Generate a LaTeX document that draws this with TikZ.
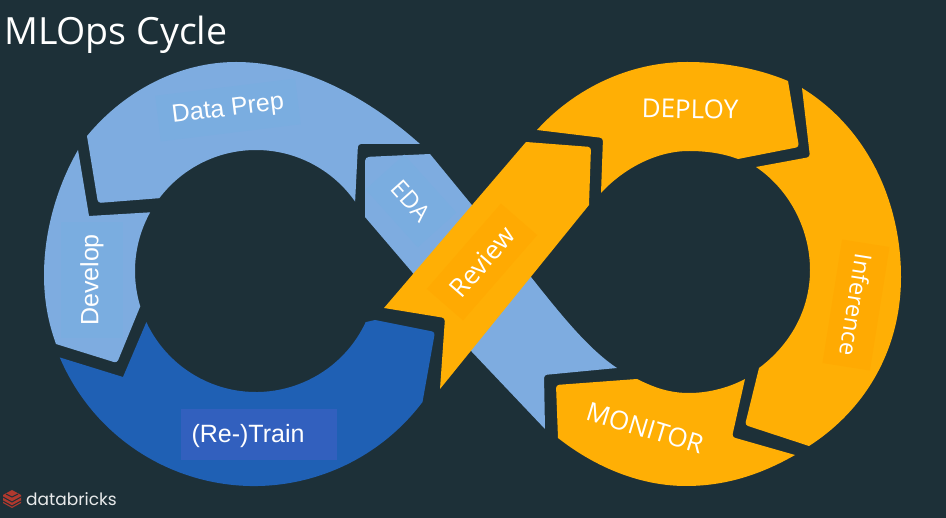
\documentclass[tikz,border=0pt]{standalone}
\usepackage{fontspec}
\usetikzlibrary{calc}
\setmainfont{Liberation Sans}
\newfontfamily\opensans{Open Sans}
\newfontfamily\poppins{Poppins}
\definecolor{slate}{HTML}{1D3038}
\definecolor{skyblue}{HTML}{7EACE0}
\definecolor{skyband}{HTML}{7AADE0}
\definecolor{deepblue}{HTML}{1F60B4}
\definecolor{deepband}{HTML}{3260BE}
\definecolor{amber}{HTML}{FFAF05}
\definecolor{amberband}{HTML}{FFAA02}
\definecolor{brickred}{HTML}{B0392E}
\tikzset{
  sky/.style={fill=skyblue},
  deep/.style={fill=deepblue},
  warm/.style={fill=amber},
  arial/.style={text=white,inner sep=0pt,font=\fontsize{25}{30}\selectfont},
  open/.style={text=white,inner sep=0pt,font=\opensans\fontsize{26}{30}\selectfont},
}
\begin{document}
\begin{tikzpicture}[x=1pt,y=-1pt]
    \useasboundingbox (0,0) rectangle (946,518);
    \fill[slate] (0,0) rectangle (946,518);
    \coordinate (lo) at (254,275);
    \coordinate (li) at (256,271);

    % left loop
    \fill[sky] (87,136) .. controls (125,90) and (180,62) .. (236,62)
      .. controls (300,62) and (365,95) .. (420,144)
      [rounded corners=3pt] -- (358,144) [sharp corners]
      -- ($(li)+(-35:121)$) arc[start angle=-35,end angle=-143,radius=121]
      [rounded corners=3pt] -- (98,203) [sharp corners] -- cycle;
    \fill[sky] (78,150) .. controls (55,190) and (44,235) .. (44,275)
      .. controls (44,300) and (48,322) .. (56,344)
      [rounded corners=3pt] -- (117,363) [sharp corners] -- (140,307)
      -- ($(li)+(163:121)$) arc[start angle=163,end angle=209,radius=121]
      -- (89,216) -- cycle;
    \fill[deep] ($(lo)+(157:211)$) arc[start angle=157,end angle=37,radius=211]
      [rounded corners=3pt] -- (435,332) [sharp corners] -- (375,320)
      -- ($(li)+(25:121)$) arc[start angle=25,end angle=155,radius=121]
      -- (123,377) -- cycle;

    % band crossing under the review arrow
    \fill[sky] [rounded corners=4pt] (365,217) -- (365,157) [sharp corners] -- (430,154) -- (531,277)
      .. controls (565,320) and (590,350) .. (617,368)
      [rounded corners=3pt] -- (544,375) [sharp corners] -- (545,429) -- (472,352) -- (412,272) -- cycle;
    \fill[warm] [rounded corners=3pt] (526,142) -- (591,147) [sharp corners] -- (589,205)
      -- (440,389) [rounded corners=3pt] -- (445,318) [sharp corners] -- (384,308) -- cycle;

    % right loop
    \fill[warm] (537,130) .. controls (575,88) and (630,62) .. (687,62)
      .. controls (722,62) and (757,68) .. (788,81)
      [rounded corners=3pt] -- (799,147) [sharp corners] -- (738,159)
      .. controls (722,153) and (705,151) .. (689,151)
      .. controls (655,151) and (622,170) .. (601,193)
      [rounded corners=3pt] -- (603,138) [sharp corners] -- cycle;
    \fill[warm] (802,88) .. controls (870,130) and (901,205) .. (901,277)
      .. controls (901,350) and (865,410) .. (809,446)
      [rounded corners=3pt] -- (745,425) [sharp corners] -- (759,368)
      .. controls (790,345) and (810,310) .. (810,270)
      .. controls (810,230) and (790,190) .. (756,167)
      [rounded corners=3pt] -- (810,157) [sharp corners] -- cycle;
    \fill[warm] [rounded corners=3pt] (558,438) -- (556,385) [sharp corners] -- (637,379)
      .. controls (655,388) and (670,393) .. (689,393)
      .. controls (710,393) and (730,387) .. (745,379)
      [rounded corners=3pt] -- (732,437) [sharp corners] -- (795,455)
      .. controls (760,475) and (725,486) .. (686,486)
      .. controls (640,486) and (595,467) .. (558,438) -- cycle;

    \node[arial,fill=skyband,rotate=7,minimum width=141,minimum height=46] (dataprep) at (228,110) {Data Prep};
    \node[arial,fill=skyband,rotate=90,minimum width=116,minimum height=62] (develop) at (92,280) {Develop};
    \node[fill=deepband,minimum width=156,minimum height=51,inner sep=0pt] (trainband) at (259,435) {};
    \node[arial] (train) at (248,436) {(Re-)Train};
    \node[open,fill=skyband,rotate=-48,minimum width=78,minimum height=52,font=\opensans\fontsize{24}{30}\selectfont] (eda) at (411,201) {EDA};
    \node[open,fill=amberband,rotate=49,minimum width=113,minimum height=48] (review) at (482,262) {Review};
    \node[open,rotate=-1] (deploy) at (690,109) {DEPLOY};
    \node[open,fill=amberband,rotate=-99,minimum width=125,minimum height=48,font=\opensans\fontsize{23.5}{30}\selectfont] (inference) at (856,305) {Inference};
    \node[open,rotate=-17] (monitor) at (645,428) {MONITOR};

    \node[inner sep=0pt,anchor=west,text=white,font=\opensans\fontsize{37.5}{40}\selectfont] (title) at (4,35) {MLOps Cycle};

    % logo
    \fill[brickred] (12,490) -- (21,495) -- (21,503) -- (12,508) -- (3,503) -- (3,495) -- cycle;
    \draw[slate,line width=1pt] (3,497) -- (12,502) -- (21,497) (3,501) -- (12,506) -- (21,501) (6,494) -- (12,497) -- (18,494);
    \node[inner sep=0pt,anchor=west,text=white!90!slate,font=\poppins\fontsize{17}{20}\selectfont] (databricks) at (26,499) {databricks};
\end{tikzpicture}
\end{document}
